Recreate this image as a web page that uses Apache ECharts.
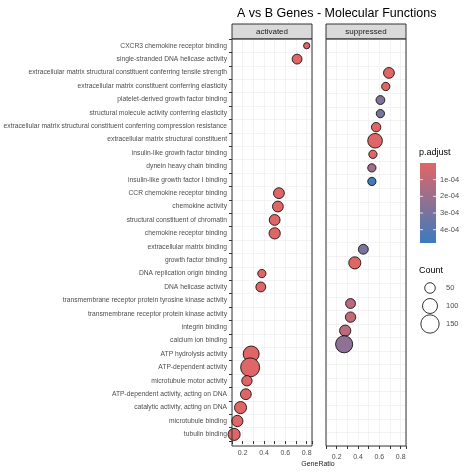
<!DOCTYPE html>
<html><head><meta charset="utf-8">
<script src="https://cdn.jsdelivr.net/npm/echarts@6/dist/echarts.min.js"></script>
<style>html,body{margin:0;padding:0;background:#fff}#c{width:474px;height:473px}</style>
</head><body><div id="c"></div>
<script>
// categories, top to bottom
var terms = ['CXCR3 chemokine receptor binding','single-stranded DNA helicase activity',
 'extracellular matrix structural constituent conferring tensile strength','extracellular matrix constituent conferring elasticity',
 'platelet-derived growth factor binding','structural molecule activity conferring elasticity',
 'extracellular matrix structural constituent conferring compression resistance','extracellular matrix structural constituent',
 'insulin-like growth factor binding','dynein heavy chain binding','insulin-like growth factor I binding',
 'CCR chemokine receptor binding','chemokine activity','structural constituent of chromatin','chemokine receptor binding',
 'extracellular matrix binding','growth factor binding','DNA replication origin binding','DNA helicase activity',
 'transmembrane receptor protein tyrosine kinase activity','transmembrane receptor protein kinase activity',
 'integrin binding','calcium ion binding','ATP hydrolysis activity','ATP-dependent activity','microtubule motor activity',
 'ATP-dependent activity, acting on DNA','catalytic activity, acting on DNA','microtubule binding','tubulin binding'];
// panel: 0 activated, 1 suppressed
var panel   = [0,0,1,1,1,1,1,1,1,1,1,0,0,0,0,1,1,0,0,1,1,1,1,0,0,0,0,0,0,0];
var ratio   = [0.80,0.71,0.69,0.66,0.61,0.61,0.57,0.56,0.54,0.53,0.53,0.54,0.53,0.50,0.50,0.45,0.37,0.38,0.37,0.33,0.33,0.28,0.27,0.28,0.27,0.24,0.23,0.18,0.15,0.12];
var count   = [20,50,60,35,40,35,45,110,35,35,35,60,60,60,65,50,75,35,50,50,55,65,150,130,185,55,60,75,65,75];
var padjust = [0.2e-5,0.5e-5,0.3e-5,0.3e-5,2.8e-4,3.1e-4,0.5e-5,0.3e-5,0.3e-5,1.8e-4,4.5e-4,0.3e-5,0.3e-5,0.3e-5,0.3e-5,3.0e-4,0.2e-5,0.5e-5,0.3e-5,1.2e-4,0.8e-4,1.2e-4,2.4e-4,0.2e-5,0.3e-5,0.3e-5,0.3e-5,0.3e-5,0.3e-5,0.3e-5];
var xTicks = [0.2,0.4,0.6,0.8];
var pMax = 4.8e-4;
var panelNames = ['activated','suppressed'];

var grids = [{left:232,top:39,width:80,bottom:27},{left:326,top:39,width:80,bottom:27}];
function pts(p){
  var r=[];
  for(var i=0;i<terms.length;i++) if(panel[i]===p) r.push([ratio[i],terms[i],count[i],padjust[i]]);
  return r;
}
var xAxes=[0,1].map(function(i){return {gridIndex:i,type:'value',min:0.1,max:0.85,interval:0.1,
  axisLine:{show:false},axisTick:{show:true,length:3,lineStyle:{color:'#333'},interval:0},
  axisLabel:{fontSize:7,color:'#4d4d4d',fontFamily:'Liberation Sans',formatter:function(v){return xTicks.some(function(t){return Math.abs(t-v)<1e-6;})?v.toFixed(1):'';}},
  splitLine:{lineStyle:{color:'#ebebeb',width:0.6}},
  name:i===1?'':'GeneRatio',nameLocation:'middle',nameGap:14,nameTextStyle:{fontSize:7,color:'#222',padding:[0,0,0,92]}};});
var yAxes=[0,1].map(function(i){return {gridIndex:i,type:'category',data:terms,inverse:true,
  axisLine:{show:false},axisTick:{show:i===0,length:3,lineStyle:{color:'#333'}},
  axisLabel:{show:i===0,fontSize:6.7,color:'#4d4d4d',fontFamily:'Liberation Sans',interval:0,margin:5},
  splitLine:{show:true,lineStyle:{color:'#ebebeb',width:0.6}}};});
var series=[0,1].map(function(i){return {type:'scatter',xAxisIndex:i,yAxisIndex:i,data:pts(i),
  symbolSize:function(v){return 1.4*Math.sqrt(v[2]);},
  itemStyle:{borderColor:'#000',borderWidth:0.8,opacity:1}};});

var chart=echarts.init(document.getElementById('c'));
chart.setOption({
  animation:false,
  title:{text:'A vs B Genes - Molecular Functions',left:232,top:2,textStyle:{fontSize:12.5,fontWeight:'normal',color:'#000',fontFamily:'Liberation Sans'}},
  grid:grids,xAxis:xAxes,yAxis:yAxes,series:series,
  visualMap:{show:false,dimension:3,min:0,max:pMax,inRange:{color:['#e06666','#3b7bbf']},seriesIndex:[0,1]},
  graphic:[
    {type:'rect',shape:{x:232,y:39,width:80,height:407},style:{fill:'none',stroke:'#333',lineWidth:1},z:10},
    {type:'rect',shape:{x:326,y:39,width:80,height:407},style:{fill:'none',stroke:'#333',lineWidth:1},z:10},
    {type:'rect',shape:{x:232,y:24,width:80,height:15},style:{fill:'#d9d9d9',stroke:'#333',lineWidth:1}},
    {type:'rect',shape:{x:326,y:24,width:80,height:15},style:{fill:'#d9d9d9',stroke:'#333',lineWidth:1}},
    {type:'text',x:272,y:31.5,style:{text:panelNames[0],fontSize:8,fill:'#1a1a1a',align:'center',verticalAlign:'middle',fontFamily:'Liberation Sans'}},
    {type:'text',x:366,y:31.5,style:{text:panelNames[1],fontSize:8,fill:'#1a1a1a',align:'center',verticalAlign:'middle',fontFamily:'Liberation Sans'}},
    {type:'text',x:419,y:148,style:{text:'p.adjust',fontSize:9,fill:'#000',fontFamily:'Liberation Sans'}},
    {type:'rect',shape:{x:420,y:163,width:16,height:80},style:{fill:new echarts.graphic.LinearGradient(0,0,0,1,[{offset:0,color:'#e06666'},{offset:1,color:'#3b7bbf'}])}},
    {type:'group',children:[1,2,3,4].map(function(k){var y=163+80*k*1e-4/pMax;return {type:'group',children:[
      {type:'line',shape:{x1:420,y1:y,x2:423,y2:y},style:{stroke:'#fff',lineWidth:0.8}},
      {type:'line',shape:{x1:433,y1:y,x2:436,y2:y},style:{stroke:'#fff',lineWidth:0.8}},
      {type:'text',x:440,y:y,style:{text:k+'e-04',fontSize:7.5,fill:'#4d4d4d',verticalAlign:'middle',fontFamily:'Liberation Sans'}}]};})},
    {type:'text',x:419,y:266,style:{text:'Count',fontSize:9,fill:'#000',fontFamily:'Liberation Sans'}},
    {type:'group',children:[50,100,150].map(function(c,k){var y=288+18*k;return {type:'group',children:[
      {type:'circle',shape:{cx:430,cy:y,r:0.75*Math.sqrt(c)},style:{fill:'#fff',stroke:'#000',lineWidth:0.8}},
      {type:'text',x:446,y:y,style:{text:String(c),fontSize:7.5,fill:'#4d4d4d',verticalAlign:'middle',fontFamily:'Liberation Sans'}}]};})}
  ]
});
</script></body></html>
